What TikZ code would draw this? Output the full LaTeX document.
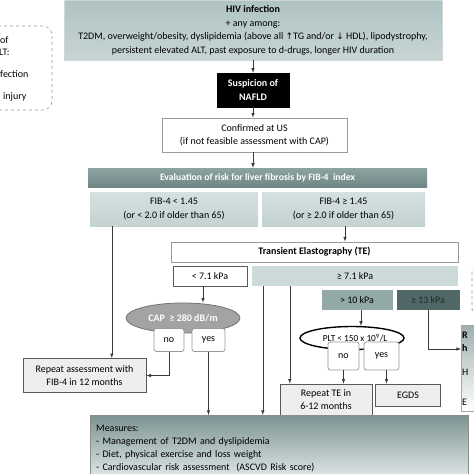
\documentclass[tikz,border=0pt]{standalone}
\usepackage{fontspec}
\setmainfont{Carlito}
\newfontfamily\arrowfont{DejaVu Sans}
\usetikzlibrary{positioning,shapes.geometric,calc}
\definecolor{hivtop}{HTML}{AFC3C2}
\definecolor{hivbot}{HTML}{C7D5D4}
\definecolor{bartop}{HTML}{8DA3A2}
\definecolor{barbot}{HTML}{6F8786}
\definecolor{fibfill}{HTML}{C3D3D2}
\definecolor{tenfill}{HTML}{93A9A8}
\definecolor{thirteenfill}{HTML}{4F6766}
\definecolor{capfill}{HTML}{A3A3A3}
\definecolor{meastop}{HTML}{7B9392}
\definecolor{measbot}{HTML}{E6ECEC}
\definecolor{repfill}{HTML}{EEEEEE}
\definecolor{boxgray}{HTML}{9A9A9A}
\definecolor{linkgray}{HTML}{3A3A3A}
\tikzset{every picture/.style={>=latex}}
\tikzset{flow box/.style={draw=boxgray,align=center,inner sep=1pt,font=\fontsize{10}{13.5}\selectfont}}
\tikzset{rep box/.style={flow box,draw=linkgray!85,fill=repfill,line width=0.8pt}}
\tikzset{kpa box/.style={flow box,minimum height=20pt,draw=none}}
\tikzset{answer/.style={flow box,rounded corners=2.5pt,fill=white,draw=boxgray,line width=0.8pt}}
\tikzset{link/.style={->,draw=linkgray,line width=0.6pt}}
\tikzset{note box/.style={draw=boxgray,dashed,rounded corners=9pt,line width=0.6pt}}
\tikzset{note text/.style={anchor=west,inner sep=0pt,font=\fontsize{10}{13.5}\selectfont}}
\begin{document}
\begin{tikzpicture}[x=1pt,y=-1pt]
\useasboundingbox (0,0) rectangle (474,474);
\clip (0,0) rectangle (474,474);
\fill[white] (0,0) rectangle (474,474);

% notes cut by the frame
\draw[note box] (-20,26) rectangle (52,110);
\node[note text] (noteof) at (0,40) {of};
\node[note text] (notealt) at (-1,52) {LT:};
\node[note text] (noteinf) at (0,74) {fection};
\node[note text] (noteinj) at (3,97) {injury};
\draw[note box,rounded corners=4pt] (472,268) rectangle (500,313);

% main flow
\node[flow box,anchor=south,minimum width=378pt,inner ysep=5pt,draw=hivtop!80!black!40,
  top color=hivtop,bottom color=hivbot] (hiv) at (253,60)
  {\textbf{HIV infection}\\+ any among:\\
   T2DM, overweight/obesity, dyslipidemia (above all {\arrowfont\small↑}TG and/or {\arrowfont\small↓} HDL), lipodystrophy,\\
   persistent elevated ALT, past exposure to d-drugs, longer HIV duration};
\node[flow box,fill=black,draw=black,text=white,font=\bfseries\fontsize{10}{13.5}\selectfont,
  minimum width=72pt,minimum height=34pt] (susp) at (253,90) {Suspicion of\\NAFLD};
\node[flow box,fill=white,line width=0.8pt,minimum width=185pt,minimum height=34pt] (conf) at (254.5,135)
  {Confirmed at US\\(if not feasible assessment with CAP)};
\node[flow box,draw=none,top color=bartop,bottom color=barbot,text=white,
  font=\bfseries\fontsize{9.7}{13.5}\selectfont,minimum width=339pt,minimum height=19pt] (eval) at (257.5,177.5)
  {Evaluation of risk for liver fibrosis by FIB-4~ index};
\node[flow box,draw=none,top color=fibfill!70!white,bottom color=fibfill,minimum width=168pt,minimum height=34pt] (fiblo) at (174,209)
  {FIB-4 < 1.45\\(or < 2.0 if older than 65)};
\node[flow box,draw=none,top color=fibfill!70!white,bottom color=fibfill,minimum width=163pt,minimum height=34pt] (fibhi) at (343.5,209)
  {FIB-4 ≥ 1.45\\(or ≥ 2.0 if older than 65)};
\node[flow box,fill=white,line width=1pt,font=\bfseries\fontsize{10}{13.5}\selectfont,
  minimum width=287pt,minimum height=20pt] (te) at (314.5,252) {Transient Elastography (TE)};
\node[kpa box,draw=linkgray!85,line width=0.8pt,fill=white,minimum width=74pt] (kpalo) at (210,276) {< 7.1 kPa};
\node[kpa box,fill=fibfill!85!white,minimum width=206pt] (kpahi) at (355,276) {≥ 7.1 kPa};
\node[kpa box,fill=tenfill,minimum width=71pt] (kpaten) at (357,300) {> 10 kPa};
\node[kpa box,fill=thirteenfill,minimum width=63pt,text=black!85] (kpathirteen) at (428,300) {≥ 13 kPa};

% CAP branch
\node[ellipse,draw=black!55,line width=0.8pt,fill=capfill,text=white,inner sep=0pt,
  font=\bfseries\fontsize{10}{13.5}\selectfont,minimum width=114pt,minimum height=30pt] (cap) at (183,318) {CAP~ ≥ 280 dB/m};
\node[answer,minimum width=30pt,minimum height=23pt] (capno) at (169,340) {no};
\node[answer,minimum width=33pt,minimum height=23pt] (capyes) at (208.5,340) {yes};
\node[rep box,minimum width=123pt,minimum height=34pt] (repfib) at (84.5,375.5)
  {Repeat assessment with\\FIB-4 in 12 months};

% PLT branch
\node[ellipse,draw=black,line width=1.4pt,fill=white,inner sep=0pt,font=\fontsize{9.3}{13.5}\selectfont,
  minimum width=104pt,minimum height=23pt] (plt) at (352,338) {\hspace*{6pt}PLT < 150 x 10\textsuperscript{9}/L};
\node[answer,minimum width=31pt,minimum height=28pt] (pltno) at (343.5,356) {no};
\node[answer,minimum width=35pt,minimum height=28pt] (pltyes) at (381.5,356) {yes};
\node[rep box,minimum width=92pt,minimum height=31pt] (reptee) at (326,399.5) {Repeat TE in\\6-12 months};
\node[rep box,minimum width=65pt,minimum height=22pt] (egds) at (408,395) {EGDS};

% boxes at the bottom and on the right
\node[flow box,anchor=north west,align=left,draw=black!45,top color=meastop,bottom color=measbot,
  minimum width=378pt,minimum height=66pt,text width=366pt,inner xsep=6pt,inner ysep=5pt,
  font=\fontsize{10}{13}\selectfont] (meas) at (90,415)
  {Measures:\\- Management of T2DM and dyslipidemia\\- Diet, physical exercise and loss weight\\
   - Cardiovascular risk assessment~ (ASCVD Risk score)\\};
\node[flow box,anchor=north west,draw=black!35,top color=hivtop!90!black,bottom color=white,
  minimum width=40pt,minimum height=86pt] (rbox) at (461,325) {};
\node[note text,font=\bfseries\fontsize{10}{13.5}\selectfont] (rtxtr) at (462,335) {R};
\node[note text,font=\bfseries\fontsize{10}{13.5}\selectfont] (rtxth) at (462,348) {h};
\node[note text] (rtxtH) at (462,372) {H};
\node[note text] (rtxtE) at (462,402) {E};

% connectors
\draw[link] (hiv.south) -- (susp.north);
\draw[link] (susp.south) -- (conf.north -| susp.south);
\draw[link] (conf.south -| susp.south) -- (eval.north -| susp.south);
\draw[link] ([xshift=1.5pt]fibhi.south) -- ([xshift=1.5pt]fibhi.south |- te.north);
\draw[link] ([xshift=22pt]fiblo.south west) -- ([xshift=22pt]fiblo.south west |- repfib.north);
\draw[link] ([xshift=-7pt]kpalo.south) -- ([xshift=-7pt]kpalo.south |- cap.north);
\draw[link] (capno.south) |- (repfib.east);
\draw[link] (capyes.south) -- (capyes.south |- meas.north);
\draw[link] ([xshift=11pt]kpahi.south west) -- ([xshift=11pt]kpahi.south west |- meas.north);
\draw[link] ([xshift=38pt]kpahi.south west) -- ([xshift=38pt]kpahi.south west |- reptee.north);
\draw[link] ([xshift=4pt]kpaten.south) -- ([xshift=4pt]kpaten.south |- plt.north);
\draw[link] (pltno.south) -- (pltno.south |- reptee.north);
\draw[link] ([xshift=5pt]pltyes.south) -- ([xshift=5pt]pltyes.south |- egds.north);
\draw[link] (kpathirteen.south) |- ([yshift=-24pt]rbox.north west);
\end{tikzpicture}
\end{document}
